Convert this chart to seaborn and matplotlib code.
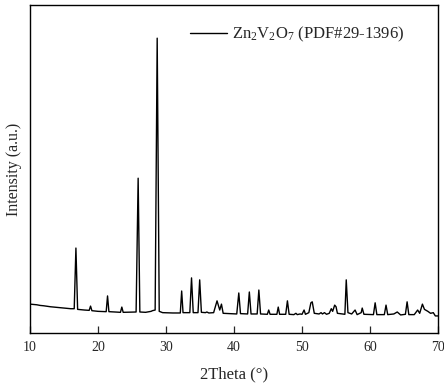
import matplotlib
matplotlib.use("Agg")
import matplotlib.pyplot as plt
import seaborn as sns
import pandas as pd

# Data (2Theta in degrees, intensity in arbitrary units)
two_theta = [10.0, 11.0, 11.5, 12.0, 13.0, 14.0, 15.0, 16.0, 16.5, 16.75, 17.0, 18.0,
             18.7, 18.9, 19.1, 20.0, 21.2, 21.4, 21.6, 22.5, 23.3, 23.5, 23.7, 25.6,
             25.9, 26.15, 27.0, 27.8, 28.0, 28.4, 28.7, 29.0, 29.5, 31.0, 32.1, 32.3,
             32.5, 33.5, 33.75, 34.0, 34.7, 34.95, 35.2, 35.8, 36.0, 36.3, 37.0, 37.5,
             37.9, 38.15, 38.4, 40.4, 40.7, 40.95, 42.0, 42.25, 42.5, 43.4, 43.65, 43.9,
             44.9, 45.1, 45.3, 46.3, 46.5, 46.7, 47.6, 47.85, 48.1, 48.8, 49.1, 49.3,
             49.7, 50.0, 50.3, 50.5, 51.0, 51.3, 51.5, 51.8, 52.5, 52.8, 53.0, 53.3,
             53.6, 54.0, 54.3, 54.5, 54.8, 55.0, 55.2, 56.3, 56.5, 56.75, 57.3, 57.8,
             58.1, 58.7, 58.85, 59.1, 60.5, 60.75, 61.0, 62.1, 62.35, 62.6, 63.5, 64.0,
             64.5, 65.2, 65.45, 65.7, 66.5, 67.0, 67.3, 67.7, 68.0, 68.5, 68.9, 69.3,
             69.6, 70.0]
intensity = [88, 86, 84, 83, 80, 78, 76, 74, 74, 259, 72, 70,
             69, 82, 68, 66, 65, 113, 65, 64, 63, 79, 63, 64,
             472, 64, 63, 66, 68, 70, 899, 66, 62, 61, 61, 128,
             62, 62, 168, 62, 62, 162, 63, 62, 64, 61, 62, 98,
             70, 88, 60, 58, 122, 59, 58, 125, 58, 58, 131, 58,
             57, 70, 57, 57, 79, 57, 57, 98, 57, 56, 60, 56,
             58, 57, 70, 57, 62, 92, 95, 60, 58, 62, 58, 62,
             57, 60, 74, 66, 85, 80, 60, 57, 162, 62, 58, 70,
             56, 62, 76, 57, 56, 92, 56, 56, 85, 56, 58, 64,
             55, 57, 95, 56, 56, 70, 60, 88, 72, 66, 60, 62,
             52, 52]
series_label = r"Zn$_2$V$_2$O$_7$ (PDF#29-1396)"
x_ticks = [10, 20, 30, 40, 50, 60, 70]

sns.set_style("ticks")
plt.rcParams["font.family"] = ["Liberation Serif", "DejaVu Serif"]
plt.rcParams["mathtext.fontset"] = "custom"
plt.rcParams["mathtext.rm"] = "Liberation Serif"
plt.rcParams["mathtext.it"] = "Liberation Serif:italic"

df = pd.DataFrame({"2Theta": two_theta, "Intensity": intensity})

fig = plt.figure(figsize=(4.44, 3.89), dpi=100)
ax = fig.add_axes([0.0676, 0.144, 0.919, 0.843])
sns.lineplot(data=df, x="2Theta", y="Intensity", ax=ax, color="black",
             linewidth=1.0, label=series_label, sort=False)

ax.set_xlim(10, 70)
ax.set_ylim(0, 1000)
ax.set_xticks(x_ticks)
ax.set_yticks([])
ax.tick_params(axis="x", direction="in", length=5, width=0.9, labelsize=10, pad=6)
for s in ax.spines.values():
    s.set_visible(True)
    s.set_linewidth(1.0)
    s.set_color("black")
ax.set_xlabel("2Theta (°)", fontsize=12, labelpad=9)
ax.set_ylabel("Intensity (a.u.)", fontsize=11.5, labelpad=6)
leg = ax.legend(loc="upper right", bbox_to_anchor=(0.955, 0.985), frameon=False,
                fontsize=12, handlelength=2.2, handletextpad=0.35)

fig.savefig("out.png", dpi=100)
